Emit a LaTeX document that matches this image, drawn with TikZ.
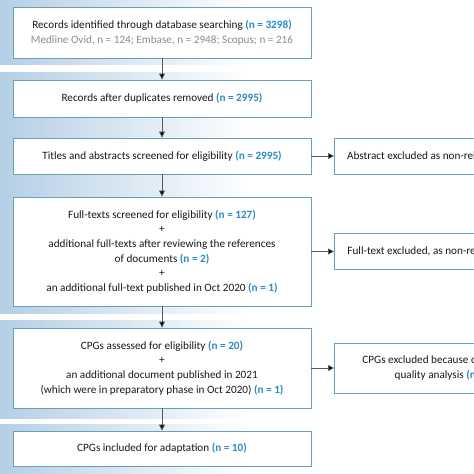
\documentclass[tikz,border=0pt]{standalone}
\usepackage{fontspec}
\setmainfont{Carlito}
\usetikzlibrary{arrows.meta}
\definecolor{nblue}{HTML}{2A8BC4}
\definecolor{boxline}{HTML}{6A9FBA}
\definecolor{bandblue}{HTML}{B5CFE5}
\definecolor{txtgray}{HTML}{8C8C8C}
\tikzstyle{mainbox} = [draw=boxline, fill=white, line width=0.9pt,
    rectangle, minimum width=298pt, inner sep=0pt, align=center,
    font=\fontsize{11.2}{14.6}\selectfont, text=black!90]
\tikzstyle{sidebox} = [draw=boxline, fill=white, line width=0.9pt,
    rectangle, minimum width=240pt, inner sep=0pt, anchor=west]
\tikzstyle{sidetext} = [anchor=east, inner sep=0pt, align=right,
    font=\fontsize{11.2}{14.6}\selectfont, text=black!90]
\tikzstyle{flow} = [draw=black!65, line width=0.8pt, -{Triangle[length=6pt,width=6pt,fill=black]}]
\tikzstyle{band} = [left color=bandblue, right color=white]
\newcommand{\nval}[1]{{\color{nblue}\bfseries(n = #1)}}

\begin{document}
\begin{tikzpicture}[x=1pt,y=-1pt]
                \useasboundingbox (0,0) rectangle (474,474);
                \shade[band] (0,0) rectangle (250,64);
                \shade[band] (0,72) rectangle (250,313);
                \shade[band] (0,320) rectangle (250,418);
                \shade[band] (0,424) rectangle (250,474);

                \node[mainbox, minimum height=51pt] (records) at (162,32.5) {%
                    Records identified through database searching \nval{3298}\\
                    {\color{txtgray}Medline Ovid, n = 124; Embase, n = 2948; Scopus; n = 216}};
                \node[mainbox, minimum height=37pt] (dupl) at (162,98.5) {%
                    Records after duplicates removed \nval{2995}};
                \node[mainbox, minimum height=36pt] (screen) at (162,156) {%
                    Titles and abstracts screened for eligibility \nval{2995}};
                \node[mainbox, minimum height=109pt] (fulltext) at (162,251.5) {%
                    Full-texts screened for eligibility \nval{127}\\
                    +\\
                    additional full-texts after reviewing the references\\
                    of documents \nval{2}\\
                    +\\
                    an additional full-text published in Oct 2020 \nval{1}};
                \node[mainbox, minimum height=80pt] (cpgs) at (162,368) {%
                    CPGs assessed for eligibility \nval{20}\\
                    +\\
                    an additional document published in 2021\\
                    (which were in preparatory phase in Oct 2020) \nval{1}};
                \node[mainbox, minimum height=35pt] (included) at (162,448.5) {%
                    CPGs included for adaptation \nval{10}};

                \node[sidebox, minimum height=36pt] (absexcl) at (334,156) {};
                \node[sidebox, minimum height=36pt] (ftexcl) at (334,251.5) {};
                \node[sidebox, minimum height=50pt] (cpgexcl) at (334,368) {};
                \node[sidetext] (abstxt) at (476,156) {Abstract excluded as non-rel};
                \node[sidetext] (fttxt) at (476,251.5) {Full-text excluded, as non-re};
                \node[sidetext] (cpgtxt) at (476,368) {CPGs excluded because c\\
                    quality analysis {\color{nblue}\bfseries(n}};

                \draw[flow] (records) -- (dupl);
                \draw[flow] (dupl) -- (screen);
                \draw[flow] (screen) -- (fulltext);
                \draw[flow] (fulltext) -- (cpgs);
                \draw[flow] (cpgs) -- (included);
                \draw[flow] (screen) -- (absexcl);
                \draw[flow] (fulltext) -- (ftexcl);
                \draw[flow] (cpgs) -- (cpgexcl);
            \end{tikzpicture}
\end{document}
